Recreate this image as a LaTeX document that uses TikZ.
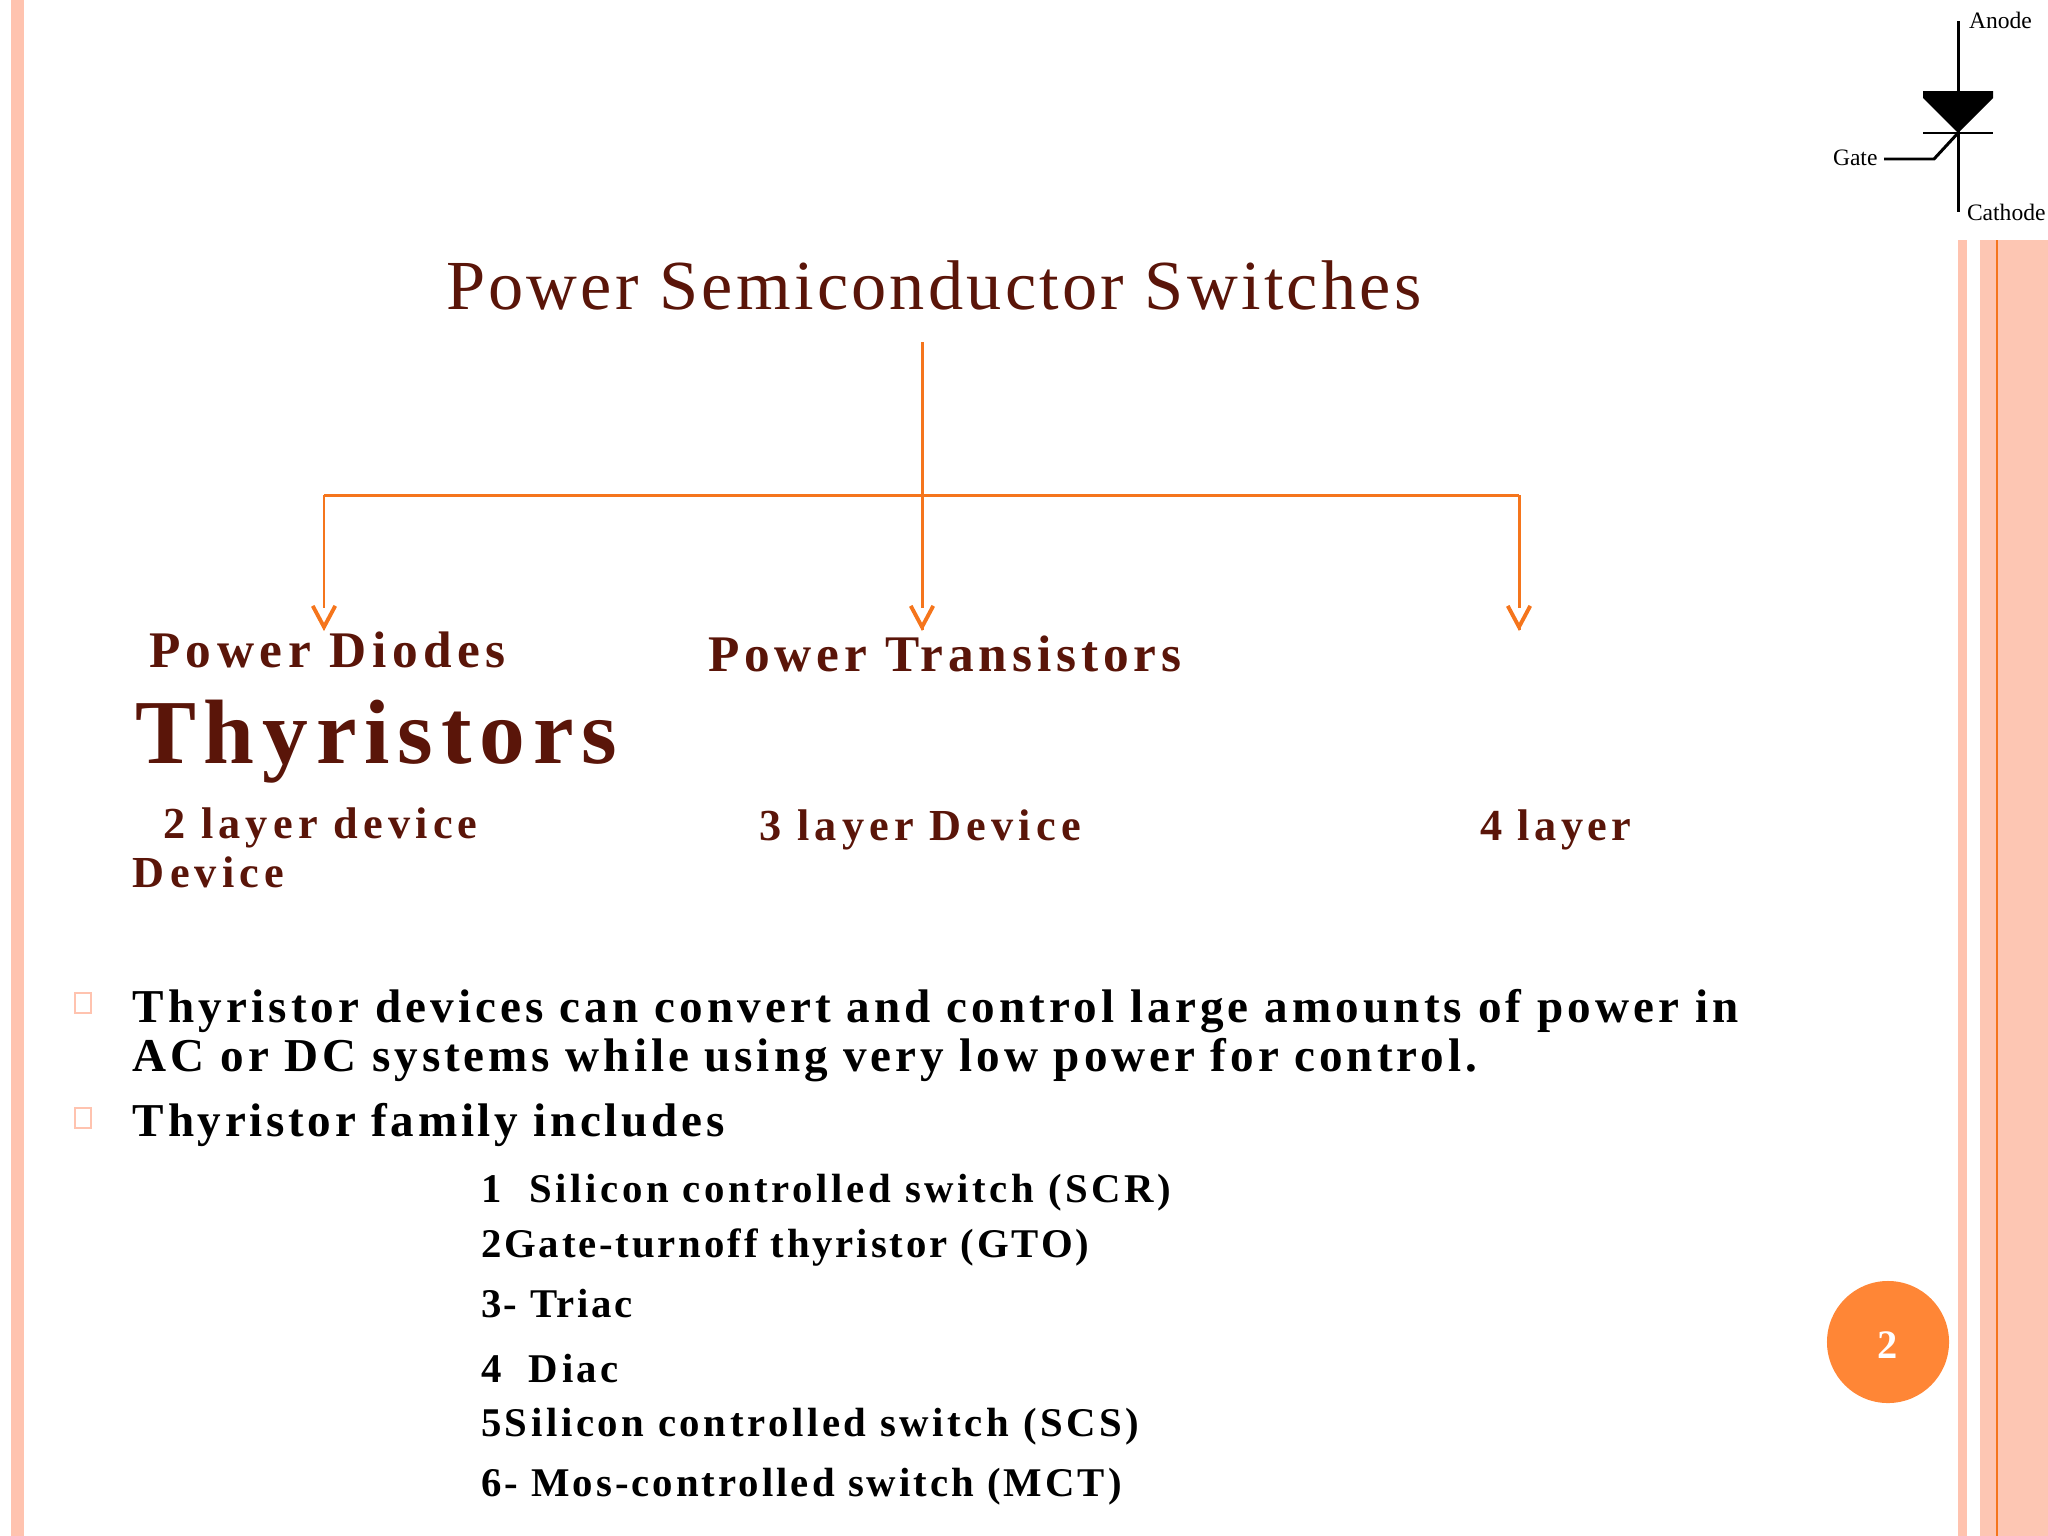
\documentclass[tikz,border=0pt]{standalone}
\usepackage{fontspec}
\usetikzlibrary{arrows.meta}
\setmainfont{Liberation Serif}
\definecolor{barpink}{HTML}{FFC3AF}
\definecolor{wideband}{HTML}{FDC6B3}
\definecolor{wireorange}{HTML}{F5751C}
\definecolor{badgeorange}{HTML}{FF8636}
\definecolor{textbrown}{HTML}{5A1509}
\newcommand{\spaced}[2]{\fontsize{#1}{#1}\selectfont\addfontfeatures{LetterSpace=#2}}
\begin{document}
\begin{tikzpicture}[x=0.01cm,y=-0.01cm,
  lbl/.style={anchor=base west,inner sep=0pt,outer sep=0pt},
  brown/.style={lbl,text=textbrown,font=\bfseries\spaced{14.6}{#1}},
  layer/.style={lbl,text=textbrown,font=\bfseries\spaced{12.6}{#1}},
  bullettext/.style={lbl,text=black,font=\bfseries\spaced{13.4}{#1}},
  itemtext/.style={lbl,text=black,font=\bfseries\spaced{11.6}{#1}},
  symlabel/.style={lbl,font=\spaced{6.7}{0}},
  bulletbox/.style={draw=barpink,line width=0.4pt,minimum width=16*0.2845pt,minimum height=20*0.2845pt,inner sep=0pt},
  wire/.style={draw=wireorange,line width=0.85pt},
  symline/.style={draw=black,line width=0.85pt}]
\useasboundingbox (0,0) rectangle (2048,1536);
% side bars
\fill[barpink] (11,0) rectangle (24,1536);
\fill[barpink] (1958,240) rectangle (1967,1536);
\fill[wideband] (1980,240) rectangle (2048,1536);
\draw[wireorange,line width=0.6pt] (1997,240) -- (1997,1536);
% heading and tree
\node[lbl,text=textbrown,font=\spaced{20}{4.6}] (title) at (446,309) {Power Semiconductor Switches};
\coordinate (stemtop) at (922,342);
\coordinate (barleft) at (324,495);
\coordinate (barmid) at (922,495);
\coordinate (barright) at (1519,495);
\draw[wire] (stemtop) -- (barmid);
\draw[wire] (barleft) -- (barright);
\foreach \nm in {left,mid,right}
{ \coordinate (end\nm) at ([yshift=-113*0.2845pt]bar\nm);
  \coordinate (tip\nm) at ([yshift=-136*0.2845pt]bar\nm);
  \draw[wire] (bar\nm) -- (end\nm);
  \draw[wire,-{Straight Barb[length=6pt,width=6.4pt,line width=1.1pt]}] ([yshift=0.3pt]tip\nm) -- (tip\nm);
}
% device columns
\node[brown=10.9] (diodes) at (149,667) {Power Diodes};
\node[brown=9.6] (transistors) at (708,671) {Power Transistors};
\node[lbl,text=textbrown,font=\bfseries\spaced{26}{8.6}] (thyristors) at (135,763) {Thyristors};
\node[layer=11.5] (layertwo) at (163,838) {2 layer device};
\node[layer=11.5] (devicetwo) at (133,887) {Device};
\node[layer=11.5] (layerthree) at (759,840) {3 layer Device};
\node[layer=10] (layerfour) at (1480,840) {4 layer};
% bullets
\node[bulletbox] (boxone) at (83,1003) {};
\node[bulletbox] (boxtwo) at (83,1118) {};
\node[bullettext=8.7] (lineone) at (133,1022) {Thyristor devices can convert and control large amounts of power in};
\node[bullettext=8.3] (linetwo) at (133,1071) {AC or DC systems while using very low power for control.};
\node[bullettext=7.8] (linethree) at (133,1136) {Thyristor family includes};
\foreach \nm/\ypos/\sp/\txt in {a/1202/8.9/1\ \ Silicon controlled switch (SCR),
  b/1257/7/2Gate-turnoff thyristor (GTO),
  c/1317/6.2/3- Triac,
  d/1382/8.8/4\ \ Diac,
  e/1436/8.8/5Silicon controlled switch (SCS),
  f/1496/7.4/6- Mos-controlled switch (MCT)}
{ \node[itemtext=\sp] (item\nm) at (481,\ypos) {\txt};}
% page number
\node[circle,fill=badgeorange,minimum size=122*0.2845pt,inner sep=0pt,text=white,text height=9.3pt,text depth=0pt,font=\bfseries\spaced{11.5}{0}] (badge) at (1888,1342) {2};
% thyristor symbol
\coordinate (anode) at (1958,21);
\coordinate (cathode) at (1958,212);
\coordinate (gatestart) at (1884,159);
\coordinate (gateknee) at (1934,159);
\coordinate (junction) at (1958,133);
\draw[symline] (anode) -- (cathode);
\fill[black] (1923,91) -- (1993,91) -- (1993,98) -- (junction) -- (1923,98) -- cycle;
\draw[symline] (1923,133) -- (1993,133);
\draw[symline] (gatestart) -- (gateknee) -- (junction);
\node[symlabel] (anodelabel) at (1969,28) {Anode};
\node[symlabel] (gatelabel) at (1833,165) {Gate};
\node[symlabel] (cathodelabel) at (1967,220) {Cathode};
\end{tikzpicture}
\end{document}
